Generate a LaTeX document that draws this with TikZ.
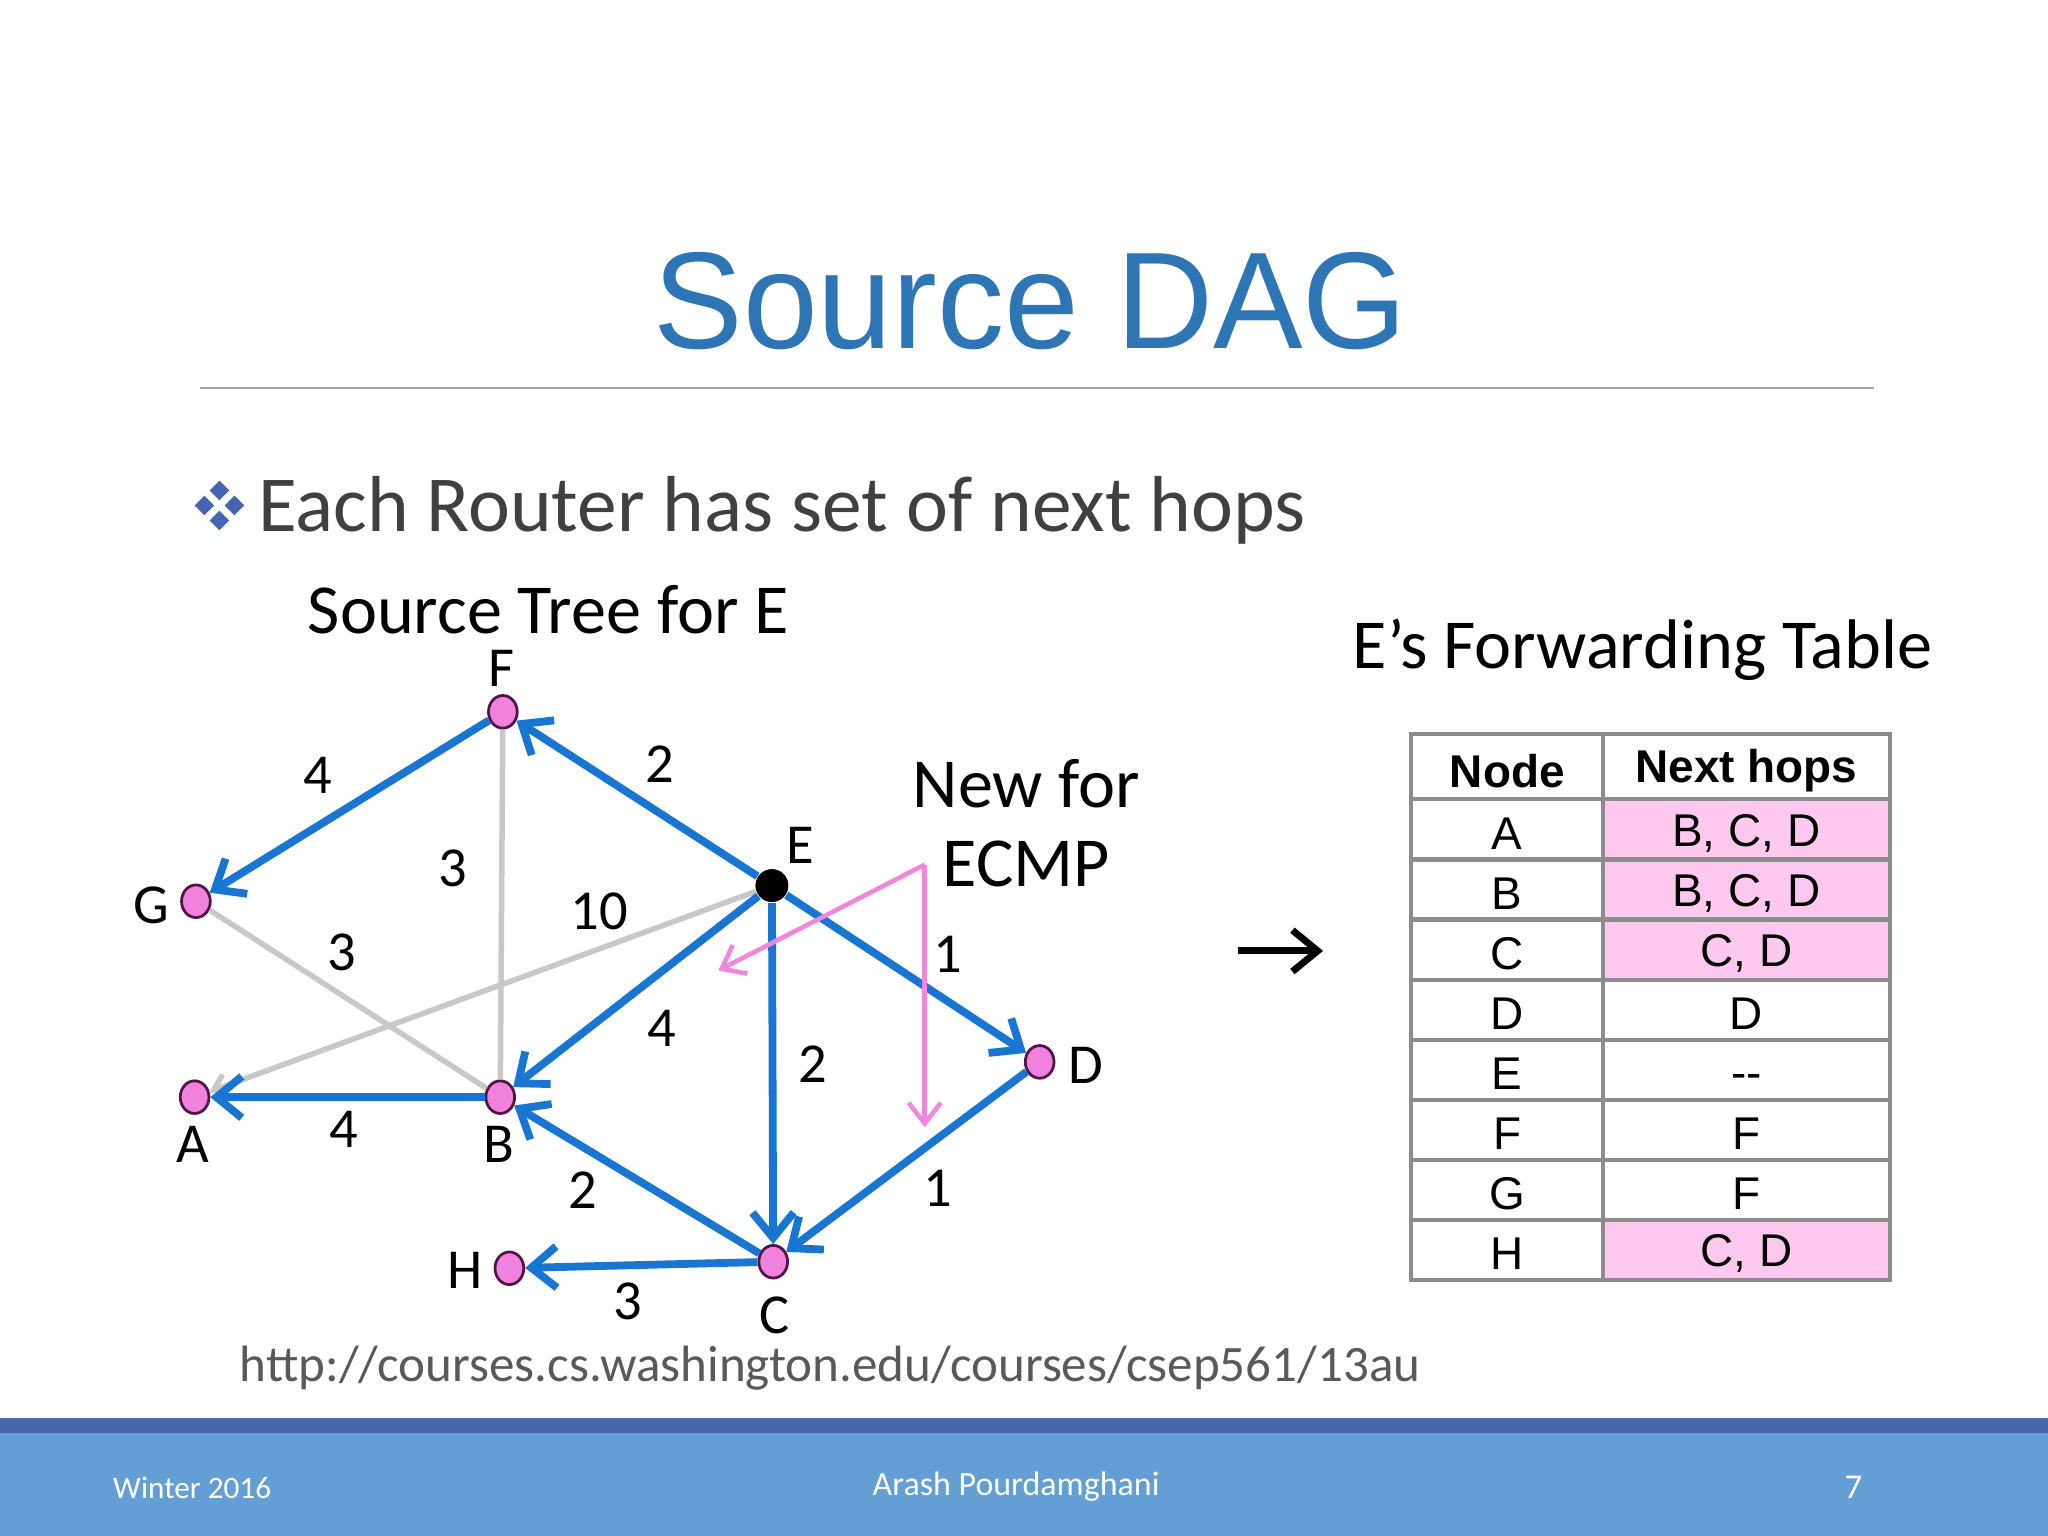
\documentclass[tikz,border=0pt]{standalone}
\usepackage{fontspec}
\setmainfont{Carlito}
\newfontfamily\arialf{Liberation Sans}
\usetikzlibrary{arrows.meta,shapes.geometric}
\definecolor{titleblue}{RGB}{46,117,182}
\definecolor{edgeblue}{RGB}{24,118,210}
\definecolor{nodepink}{RGB}{240,130,222}
\definecolor{nodeborder}{RGB}{80,20,70}
\definecolor{edgegray}{RGB}{200,200,200}
\definecolor{ecmppink}{RGB}{240,135,220}
\definecolor{cellpink}{RGB}{255,200,238}
\definecolor{tablegray}{RGB}{140,140,140}
\definecolor{bodygray}{RGB}{64,64,64}
\definecolor{urlgray}{RGB}{89,89,89}
\definecolor{footdark}{RGB}{72,104,174}
\definecolor{footlight}{RGB}{99,158,212}
\definecolor{bulletblue}{RGB}{70,100,180}
\definecolor{rulegray}{RGB}{165,165,165}
\tikzset{
  router/.style={ellipse, draw=nodeborder, line width=0.6pt, fill=nodepink,
    minimum width=2.2mm, minimum height=2.5mm, inner sep=0pt},
  sourcenode/.style={circle, fill=black, minimum size=2.5mm, inner sep=0pt},
  nlabel/.style={font=\fontsize{12.3}{14}\selectfont, inner sep=0pt},
  wlabel/.style={font=\fontsize{12.3}{14}\selectfont, inner sep=0pt},
  treeedge/.style={draw=edgeblue, line width=1.7pt, -{Straight Barb[length=5.5pt,width=9pt]}},
  otheredge/.style={draw=edgegray, line width=1.2pt},
  ecmpedge/.style={draw=ecmppink, line width=1pt, -{Straight Barb[length=4.5pt,width=7pt]}},
  heading/.style={font=\fontsize{15.3}{18}\selectfont, inner sep=0pt},
  cell/.style={font=\arialf\fontsize{10}{12}\selectfont, inner sep=0pt},
  headcell/.style={font=\arialf\bfseries\fontsize{10}{12}\selectfont, inner sep=0pt},
  foot/.style={font=\fontsize{6.8}{8}\selectfont, text=white, inner sep=0pt},
}
\begin{document}
\begin{tikzpicture}[x=0.1mm,y=-0.1mm]
\useasboundingbox (0,0) rectangle (1568,1176);
\fill[white] (0,0) rectangle (1568,1176);

% title
\node[font=\arialf\fontsize{30}{36}\selectfont, text=titleblue, anchor=base, inner sep=0pt, xscale=0.975] (title) at (789,267) {Source DAG};
\draw[rulegray, line width=0.5pt] (153,297) -- (1435,297);

% bullet
\foreach \dx/\dy in {0/-11.5, -11.5/0, 11.5/0, 0/11.5}{
  \fill[bulletblue] (168+\dx,387+\dy-7.5) -- (168+\dx+7.5,387+\dy) -- (168+\dx,387+\dy+7.5) -- (168+\dx-7.5,387+\dy) -- cycle;
}
\node[font=\fontsize{17.3}{20}\selectfont, text=bodygray, anchor=base west, inner sep=0pt] (bullettext) at (197,407) {Each Router has set of next hops};

% headings
\node[heading, anchor=base west] (treehead) at (235,485) {Source Tree for E};
\node[heading, anchor=base west] (tablehead) at (1035,512) {E’s Forwarding Table};
\node[heading, anchor=base] (newfor) at (786,618) {New for};
\node[heading, anchor=base] (ecmp) at (786,679) {ECMP};

% graph nodes
\node[router] (F) at (385,545) {};
\node[router] (G) at (150,690) {};
\node[router] (A) at (149,840) {};
\node[router] (B) at (383,840) {};
\node[router] (D) at (796,813) {};
\node[router] (C) at (592,966) {};
\node[router] (H) at (390,971) {};
\node[sourcenode] (E) at (591,678) {};

% node labels
\node[nlabel] (lF) at (384,512) {F};
\node[nlabel] (lG) at (116,693) {G};
\node[nlabel] (lE) at (613,647) {E};
\node[nlabel] (lA) at (148,876) {A};
\node[nlabel] (lB) at (382,876) {B};
\node[nlabel] (lD) at (831,816) {D};
\node[nlabel] (lC) at (593,1007) {C};
\node[nlabel] (lH) at (356,973) {H};

% non-tree edges
\draw[otheredge] (F) -- (B);
\draw[otheredge] (G) -- (B);
\draw[otheredge, -{Straight Barb[length=3pt,width=5pt]}] (E) -- (A);

% tree edges
\draw[treeedge] (E) -- (F);
\draw[treeedge] (F) -- (G);
\draw[treeedge] (E) -- (B);
\draw[treeedge] (B) -- (A);
\draw[treeedge] (E) -- (C);
\draw[treeedge] (E) -- (D);
\draw[treeedge] (D) -- (C);
\draw[treeedge] (C) -- (B);
\draw[treeedge] (C) -- (H);
\node[sourcenode] at (E) {};

% edge weights
\node[wlabel] (w1) at (243,594) {4};
\node[wlabel] (w2) at (505,585) {2};
\node[wlabel] (w3) at (347,665) {3};
\node[wlabel] (w4) at (262,729) {3};
\node[wlabel] (w5) at (459,698) {10};
\node[wlabel] (w6) at (507,787) {4};
\node[wlabel] (w7) at (622,815) {2};
\node[wlabel] (w8) at (726,731) {1};
\node[wlabel] (w9) at (718,910) {1};
\node[wlabel] (w10) at (263,865) {4};
\node[wlabel] (w11) at (446,911) {2};
\node[wlabel] (w12) at (481,996) {3};

% ECMP arrows
\coordinate (K) at (708,662);
\coordinate (K1) at (550,743);
\coordinate (K2) at (708,863);
\draw[ecmpedge] (K) -- (K1);
\draw[ecmpedge] (K) -- (K2);

% big arrow
\coordinate (T1) at (948,728);
\coordinate (T2) at (1013,728);
\draw[line width=1.5pt, -{Straight Barb[length=5.5pt,width=9pt]}] (T1) -- (T2);

% table
\foreach \r in {0,1,2,7}{
  \fill[cellpink] (1227,612+46*\r) rectangle (1447,658+46*\r);
}
\foreach \r in {0,...,8}{
  \draw[tablegray, line width=0.9pt] (1080,612+46*\r) -- (1447,612+46*\r);
}
\draw[tablegray, line width=0.9pt] (1080,562) rectangle (1447,980);
\draw[tablegray, line width=0.9pt] (1227,562) -- (1227,980);
\node[headcell] (h1) at (1154,590) {Node};
\node[headcell] (h2) at (1337,590) {Next hops};
\foreach \n/\h [count=\i from 0] in {A/{B, C, D}, B/{B, C, D}, C/{C, D}, D/D, F/F, G/F, H/{C, D}}{
  \pgfmathtruncatemacro{\rowidx}{\i<4 ? \i : \i+1}
  \node[cell] (nc\i) at (1154,638+46*\rowidx) {\n};
  \node[cell] (hc\i) at (1337,638+46*\rowidx) {\h};
}
\node[cell] (ncE) at (1154,822) {E};
\node[cell] (hcE) at (1337,828) {--};

% url
\node[font=\fontsize{11.12}{13}\selectfont, text=urlgray, anchor=base west, inner sep=0pt] (url) at (183,1058) {http://courses.cs.washington.edu/courses/csep561/13au};

% footer
\fill[footlight] (0,1097) rectangle (1568,1176);
\fill[footdark] (0,1086) rectangle (1568,1097);
\node[foot, anchor=base west] (f1) at (86,1147) {Winter 2016};
\node[foot, anchor=base, font=\fontsize{7.4}{9}\selectfont] (f2) at (778,1145) {Arash Pourdamghani};
\node[foot, anchor=base, font=\fontsize{7.6}{9}\selectfont] (f3) at (1419,1147) {7};
\end{tikzpicture}
\end{document}
